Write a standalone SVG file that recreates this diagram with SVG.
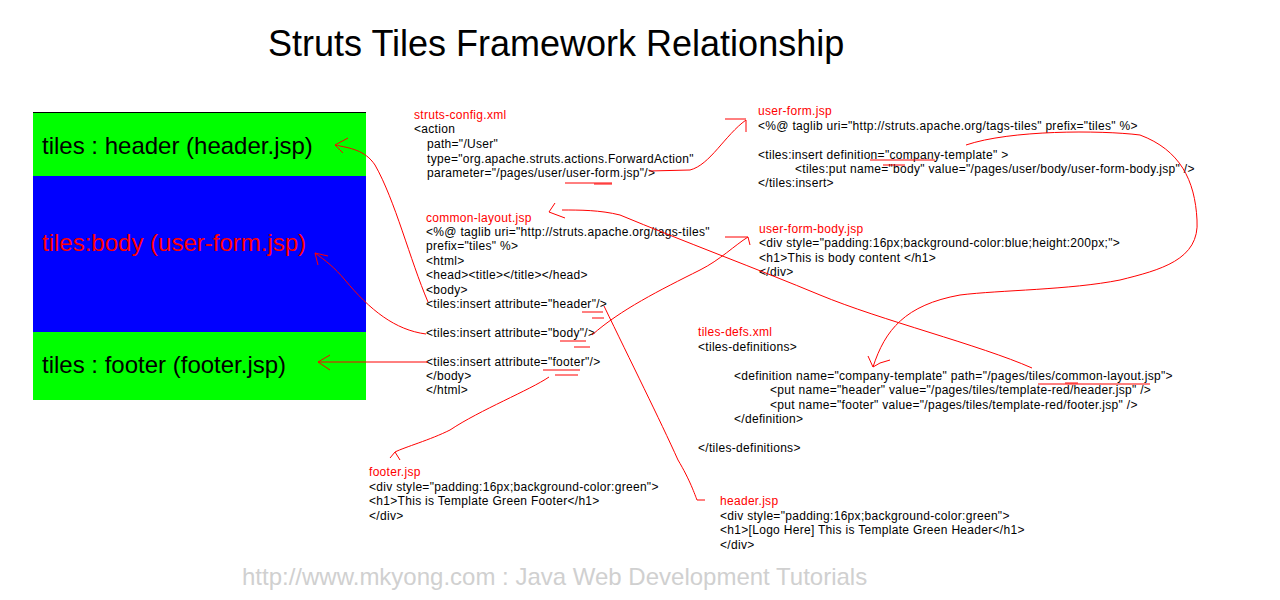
<svg xmlns="http://www.w3.org/2000/svg" width="1280" height="600" viewBox="0 0 1280 600">
<style>
text{font-family:"Liberation Sans",Arial,sans-serif}
.c{font-size:12px;letter-spacing:0.3px;fill:#000}
.h{font-size:12px;letter-spacing:0.3px;fill:#f00}
.big{font-size:24px}
.r{fill:none;stroke:#f00;stroke-width:1}
</style>
<rect width="1280" height="600" fill="#fff"/>
<text x="268" y="56" style="font-size:36px">Struts Tiles Framework Relationship</text>
<g id="layout">
<rect x="33" y="113" width="333" height="63" fill="#0f0"/>
<rect x="33" y="176" width="333" height="156" fill="#00f"/>
<rect x="33" y="332" width="333" height="68" fill="#0f0"/>
<line x1="33" y1="112.5" x2="366" y2="112.5" stroke="#000"/>
<text x="42" y="154" class="big">tiles : header (header.jsp)</text>
<text x="42" y="251" class="big" fill="#f00">tiles:body (user-form.jsp)</text>
<text x="42" y="373" class="big">tiles : footer (footer.jsp)</text>
</g>
<g id="struts-config">
<text x="414" y="119" class="h">struts-config.xml</text>
<text x="414" y="133" class="c">&lt;action</text>
<text x="427" y="148" class="c">path="/User"</text>
<text x="427" y="163" class="c">type="org.apache.struts.actions.ForwardAction"</text>
<text x="427" y="177" class="c">parameter="/pages/user/user-form.jsp"/&gt;</text>
</g>
<g id="common-layout">
<text x="426" y="222" class="h">common-layout.jsp</text>
<text x="426" y="236" class="c">&lt;%@ taglib uri="http://struts.apache.org/tags-tiles"</text>
<text x="426" y="250" class="c">prefix="tiles" %&gt;</text>
<text x="426" y="265" class="c">&lt;html&gt;</text>
<text x="426" y="279" class="c">&lt;head&gt;&lt;title&gt;&lt;/title&gt;&lt;/head&gt;</text>
<text x="426" y="294" class="c">&lt;body&gt;</text>
<text x="426" y="308" class="c">&lt;tiles:insert attribute="header"/&gt;</text>
<text x="426" y="337" class="c">&lt;tiles:insert attribute="body"/&gt;</text>
<text x="426" y="366" class="c">&lt;tiles:insert attribute="footer"/&gt;</text>
<text x="426" y="380" class="c">&lt;/body&gt;</text>
<text x="426" y="394" class="c">&lt;/html&gt;</text>
</g>
<g id="user-form">
<text x="758" y="115" class="h">user-form.jsp</text>
<text x="758" y="130" class="c">&lt;%@ taglib uri="http://struts.apache.org/tags-tiles" prefix="tiles" %&gt;</text>
<text x="758" y="159" class="c">&lt;tiles:insert definition="company-template" &gt;</text>
<text x="795" y="173" class="c">&lt;tiles:put name="body" value="/pages/user/body/user-form-body.jsp" /&gt;</text>
<text x="758" y="187" class="c">&lt;/tiles:insert&gt;</text>
</g>
<g id="user-form-body">
<text x="759" y="233" class="h">user-form-body.jsp</text>
<text x="759" y="247" class="c">&lt;div style="padding:16px;background-color:blue;height:200px;"&gt;</text>
<text x="759" y="262" class="c">&lt;h1&gt;This is body content &lt;/h1&gt;</text>
<text x="759" y="276" class="c">&lt;/div&gt;</text>
</g>
<g id="tiles-defs">
<text x="698" y="336" class="h">tiles-defs.xml</text>
<text x="698" y="351" class="c">&lt;tiles-definitions&gt;</text>
<text x="734" y="380" class="c">&lt;definition name="company-template" path="/pages/tiles/common-layout.jsp"&gt;</text>
<text x="770" y="394" class="c">&lt;put name="header" value="/pages/tiles/template-red/header.jsp" /&gt;</text>
<text x="770" y="409" class="c">&lt;put name="footer" value="/pages/tiles/template-red/footer.jsp" /&gt;</text>
<text x="734" y="423" class="c">&lt;/definition&gt;</text>
<text x="698" y="452" class="c">&lt;/tiles-definitions&gt;</text>
</g>
<g id="footer-jsp">
<text x="369" y="476" class="h">footer.jsp</text>
<text x="369" y="491" class="c">&lt;div style="padding:16px;background-color:green"&gt;</text>
<text x="369" y="505" class="c">&lt;h1&gt;This is Template Green Footer&lt;/h1&gt;</text>
<text x="369" y="520" class="c">&lt;/div&gt;</text>
</g>
<g id="header-jsp">
<text x="720" y="505" class="h">header.jsp</text>
<text x="720" y="520" class="c">&lt;div style="padding:16px;background-color:green"&gt;</text>
<text x="720" y="534" class="c">&lt;h1&gt;[Logo Here] This is Template Green Header&lt;/h1&gt;</text>
<text x="720" y="549" class="c">&lt;/div&gt;</text>
</g>
<text x="242" y="585" style="font-size:24px;fill:#d0d0d0">http://www.mkyong.com : Java Web Development Tutorials</text>
<g id="connectors" class="r">
<path class="r" d="M649 171 L690 170 C710 165 725 135 746 120 L746 132 M725 119 L746 119"/>
<path class="r" d="M565 183 L612 183 M594 184 L612 184"/>
<path class="r" d="M582 312 L603 312 M592 318 L604 318"/>
<path class="r" d="M560 341 L586 341 M574 347 L590 347"/>
<path class="r" d="M543 370 L580 370 M555 375 L578 375"/>
<path class="r" d="M883 165 L905 165 M870 160 L935 160"/>
<path class="r" d="M1038 384 L1150 384 M1065 383 L1078 383"/>
<path class="r" d="M428 302 C410 260 395 200 375 165 C365 150 350 148 335 145 M335 145 L348 138 M335 145 L343 153"/>
<path class="r" d="M426 334 C395 330 370 310 345 280 C335 268 325 260 315 253 M315 253 L318 265 M315 253 L328 256"/>
<path class="r" d="M428 362 L318 362 M318 362 L330 355 M318 362 L330 370"/>
<path class="r" d="M592 335 C620 310 660 290 700 270 C720 260 735 245 748 237 L750 245 M725 237 L748 237"/>
<path class="r" d="M549 377 C530 390 480 410 450 430 C430 440 405 447 395 452 M395 452 L400 460 M395 452 L390 458"/>
<path class="r" d="M604 306 C630 360 660 420 678 460 C690 480 695 495 697 500 L705 500"/>
<path class="r" d="M1032 368 C980 345 880 320 820 295 C760 270 680 240 620 215 C600 210 580 210 562 210 M549 212 L555 203 M549 212 L565 218"/>
<path class="r" d="M966 145 C1010 130 1100 130 1140 135 C1180 150 1195 180 1197 220 C1200 260 1160 270 1120 280 C1070 290 1000 290 960 295 C905 305 885 330 873 367 M873 367 L868 356 M873 367 L880 363 L890 360"/>
</g>
</svg>
